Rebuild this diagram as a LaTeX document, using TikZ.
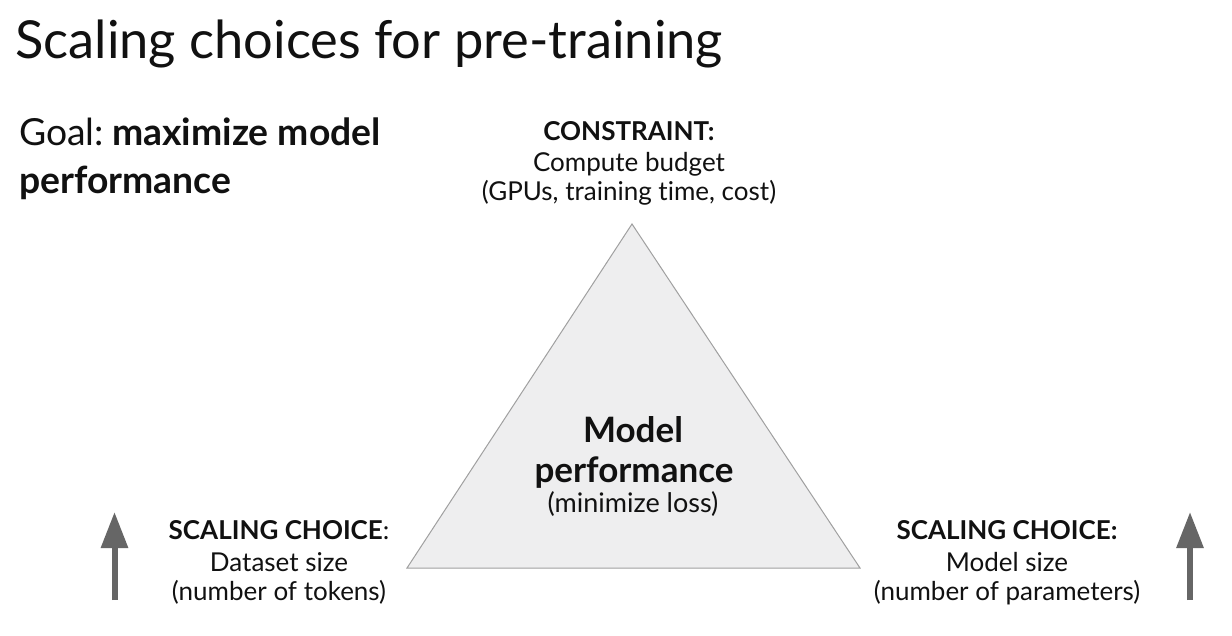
\documentclass[tikz,border=0pt]{standalone}
\usepackage{fontspec}
\setmainfont{Lato}[Ligatures={NoCommon}]
\usetikzlibrary{arrows.meta}
\definecolor{trifill}{HTML}{EEEEEF}
\definecolor{tristroke}{HTML}{A0A0A0}
\definecolor{arrowgray}{HTML}{666666}
\definecolor{ink}{HTML}{111111}
\begin{document}
\begin{tikzpicture}[x=1pt,y=-1pt,
  txt/.style={inner sep=0pt, text=ink, anchor=base},
  titletxt/.style={txt, anchor=base west, font=\fontsize{52.4}{60}\selectfont},
  goaltxt/.style={txt, anchor=base west, font=\fontsize{37.3}{46}\selectfont},
  lbl/.style={txt, font=\fontsize{26}{30}\selectfont},
  smalll/.style={txt, font=\fontsize{27}{30}\selectfont},
  bigl/.style={txt, font=\fontsize{35}{38}\selectfont\bfseries},
  tri/.style={fill=trifill, draw=tristroke, line width=1pt, line join=miter},
  uparrow/.style={draw=arrowgray, line width=6pt, -{Triangle[width=26pt,length=36pt,fill=arrowgray]}}
]
\useasboundingbox (0,0) rectangle (1232,635);
\fill[white] (0,0) rectangle (1232,635);

% title
\node[titletxt] (title) at (15,58) {Scaling choices for pre-training};

% goal
\node[goaltxt] (goal1) at (19,145) {Goal:\hspace{0.22em}\textbf{maximize model}};
\node[goaltxt] (goal2) at (19,193) {\textbf{performance}};

% triangle
\coordinate (apex) at (632,224);
\coordinate (bl) at (407,568);
\coordinate (br) at (860,568);
\draw[tri] (apex) -- (bl) -- (br) -- cycle;

% triangle text
\node[bigl] (mp1) at (633,442) {Model};
\node[bigl] (mp2) at (634,482) {performance};
\node[smalll] (mp3) at (633,512) {(minimize loss)};

% constraint
\node[lbl] (c1) at (629,140) {\textbf{CONSTRAINT:}};
\node[lbl] (c2) at (629,171) {Compute budget};
\node[lbl] (c3) at (629,200) {(GPUs, training time, cost)};

% left scaling choice
\node[lbl] (l1) at (279,539) {\textbf{SCALING CHOICE}:};
\node[lbl] (l2) at (279,571) {Dataset size};
\node[lbl] (l3) at (279,600) {(number of tokens)};

% right scaling choice
\node[lbl] (r1) at (1007,539) {\textbf{SCALING CHOICE:}};
\node[lbl] (r2) at (1007,571) {Model size};
\node[lbl] (r3) at (1007,600) {(number of parameters)};

% arrows
\coordinate (la0) at (114.5,600);
\coordinate (la1) at (114.5,512);
\draw[uparrow] (la0) -- (la1);
\coordinate (ra0) at (1190,600);
\coordinate (ra1) at (1190,512);
\draw[uparrow] (ra0) -- (ra1);
\end{tikzpicture}
\end{document}
